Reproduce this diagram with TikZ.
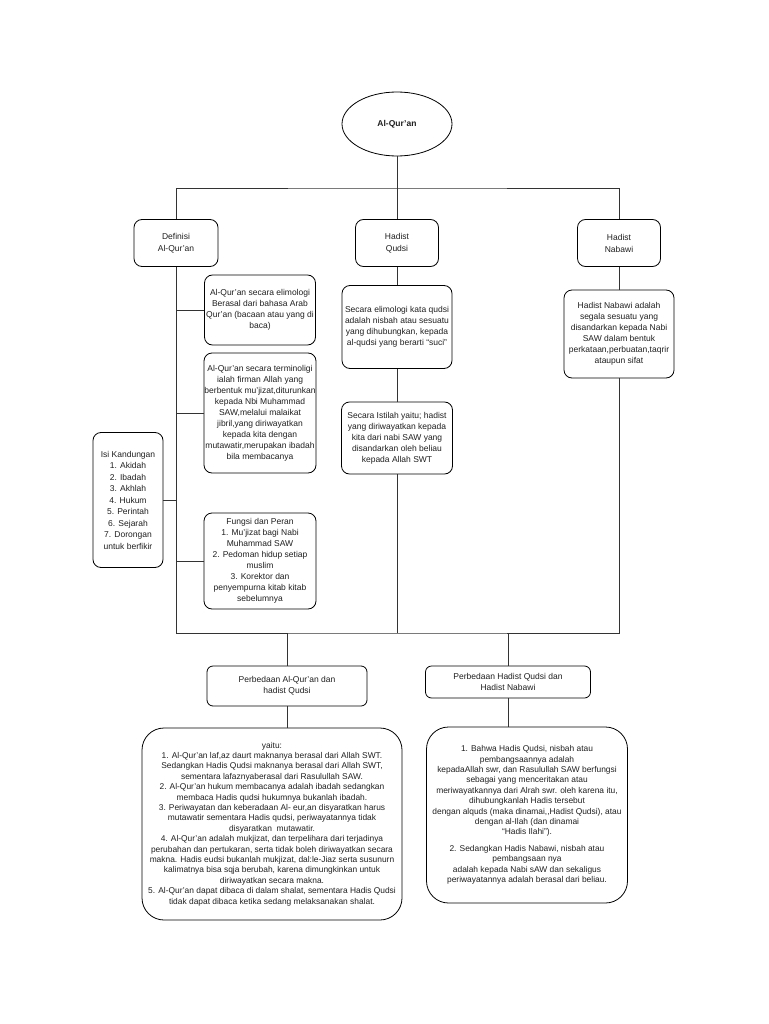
\documentclass[tikz,border=0pt]{standalone}
\usepackage{fontspec}
\setmainfont{Liberation Sans}
\usetikzlibrary{shapes.geometric}
\definecolor{ink}{gray}{0.12}

\begin{document}
\begin{tikzpicture}[x=1pt,y=-1pt,line width=.8pt]
        \useasboundingbox (0,0) rectangle (768,1024);

        \node[ellipse,draw,minimum width=110,minimum height=64,text=ink,
              font=\fontsize{8.5}{10}\selectfont\bfseries] (0) at (397,124) {Al-Qur'an};

        \begin{scope}[every node/.style={draw,rounded corners=8,align=center,inner sep=0,
                      text=ink,font=\fontsize{8.5}{11}\selectfont}]
          \node[minimum width=84,minimum height=47,font=\fontsize{8.5}{12}\selectfont] (1) at (176,243) {Definisi\\Al-Qur'an};
          \node[minimum width=83,minimum height=47,font=\fontsize{8.5}{12}\selectfont] (2) at (397,243) {Hadist\\Qudsi};
          \node[minimum width=83,minimum height=47,font=\fontsize{8.5}{12}\selectfont] (3) at (619,243) {Hadist\\Nabawi};
          \node[minimum width=111,minimum height=70] (4) at (260,310) {Al-Qur'an secara elimologi\\Berasal dari bahasa Arab\\Qur'an (bacaan atau yang di\\baca)};
          \node[minimum width=110,minimum height=83] (5) at (397,327) {Secara elimologi kata qudsi\\adalah nisbah atau sesuatu\\yang dihubungkan, kepada\\al-qudsi yang berarti ``suci''};
          \node[minimum width=112,minimum height=120] (6) at (260,413) {Al-Qur'an secara terminoligi\\ialah firman Allah yang\\berbentuk mu'jizat,diturunkan\\kepada Nbi Muhammad\\SAW,melalui malaikat\\jibril,yang diriwayatkan\\kepada kita dengan\\mutawatir,merupakan ibadah\\bila membacanya};
          \node[minimum width=111,minimum height=72] (7) at (397,438) {Secara Istilah yaitu; hadist\\yang diriwayatkan kepada\\kita dari nabi SAW yang\\disandarkan oleh beliau\\kepada Allah SWT};
          \node[minimum width=70,minimum height=135,font=\fontsize{8.5}{11.5}\selectfont] (8) at (128,500) {Isi Kandungan\\1. Akidah\\2. Ibadah\\3. Akhlah\\4. Hukum\\5. Perintah\\6. Sejarah\\7. Dorongan\\untuk berfikir};
          \node[minimum width=112,minimum height=96] (9) at (260,561) {Fungsi dan Peran\\1. Mu'jizat bagi Nabi\\Muhammad SAW\\2. Pedoman hidup setiap\\muslim\\3. Korektor dan\\penyempurna kitab kitab\\sebelumnya};
          \node[minimum width=110,minimum height=88] (11) at (619,334) {Hadist Nabawi adalah\\segala sesuatu yang\\disandarkan kepada Nabi\\SAW dalam bentuk\\perkataan,perbuatan,taqrir\\ataupun sifat};
          \node[minimum width=160,minimum height=40,rounded corners=6] (12) at (287,686) {Perbedaan Al-Qur'an dan\\hadist Qudsi};
          \node[minimum width=165,minimum height=32,rounded corners=6] (13) at (508,682) {Perbedaan Hadist Qudsi dan\\Hadist Nabawi};
          \node[minimum width=260,minimum height=192,rounded corners=22,font=\fontsize{8.4}{10.4}\selectfont] (14) at (272,824)
            {yaitu:\\1. Al-Qur'an laf,az daurt maknanya berasal dari Allah SWT.\\Sedangkan Hadis Qudsi maknanya berasal dari Allah SWT,\\sementara lafaznyaberasal dari Rasulullah SAW.\\2. Al-Qur'an hukum membacanya adalah ibadah sedangkan\\membaca Hadis qudsi hukumnya bukanlah ibadah.\\3. Periwayatan dan keberadaan Al- eur,an disyaratkan harus\\mutawatir sementara Hadis qudsi, periwayatannya tidak\\disyaratkan\ \ mutawatir.\\4. Al-Qur'an adalah mukjizat, dan terpelihara dari terjadinya\\perubahan dan pertukaran, serta tidak boleh diriwayatkan secara\\makna. Hadis eudsi bukanlah mukjizat, dal:le-Jiaz serta susunurn\\kalimatnya bisa sqja berubah, karena dimungkinkan untuk\\diriwayatkan secara makna.\\5. Al-Qur'an dapat dibaca di dalam shalat, sementara Hadis Qudsi\\tidak dapat dibaca ketika sedang melaksanakan shalat.};
          \node[minimum width=201,minimum height=176,rounded corners=22,font=\fontsize{8.4}{10.4}\selectfont] (15) at (527,815)
            {1. Bahwa Hadis Qudsi, nisbah atau\\pembangsaannya adalah\\kepadaAllah swr, dan Rasulullah SAW berfungsi\\sebagai yang menceritakan atau\\meriwayatkannya dari Alrah swr. oleh karena itu,\\dihubungkanlah Hadis tersebut\\dengan alquds (maka dinamai,{},Hadist Qudsi), atau\\dengan al-Ilah (dan dinamai\\``Hadis Ilahi'').\\[6pt]2. Sedangkan Hadis Nabawi, nisbah atau\\pembangsaan nya\\adalah kepada Nabi sAW dan sekaligus\\periwayatannya adalah berasal dari beliau.};
        \end{scope}

        \coordinate (t) at (397,188);
        \coordinate (b) at (397,633);

        \begin{scope}[draw=black!80]
          \draw (0) -- (t);
          \draw (1) |- (t) -| (3);
          \draw (t) -- (2);
          \draw (2) -- (5) -- (7) -- (b);
          \draw (3) -- (11);
          \draw (1) |- (b) -| (11);
          \draw (4) -- (4 -| 1);
          \draw (6) -- (6 -| 1);
          \draw (8) -- (8 -| 1);
          \draw (9) -- (9 -| 1);
          \draw (12) -- (12 |- b);
          \draw (13) -- (13 |- b);
          \draw (12) -- (12 |- 14.north);
          \draw (13) -- (13 |- 15.north);
        \end{scope}

      \end{tikzpicture}
\end{document}
